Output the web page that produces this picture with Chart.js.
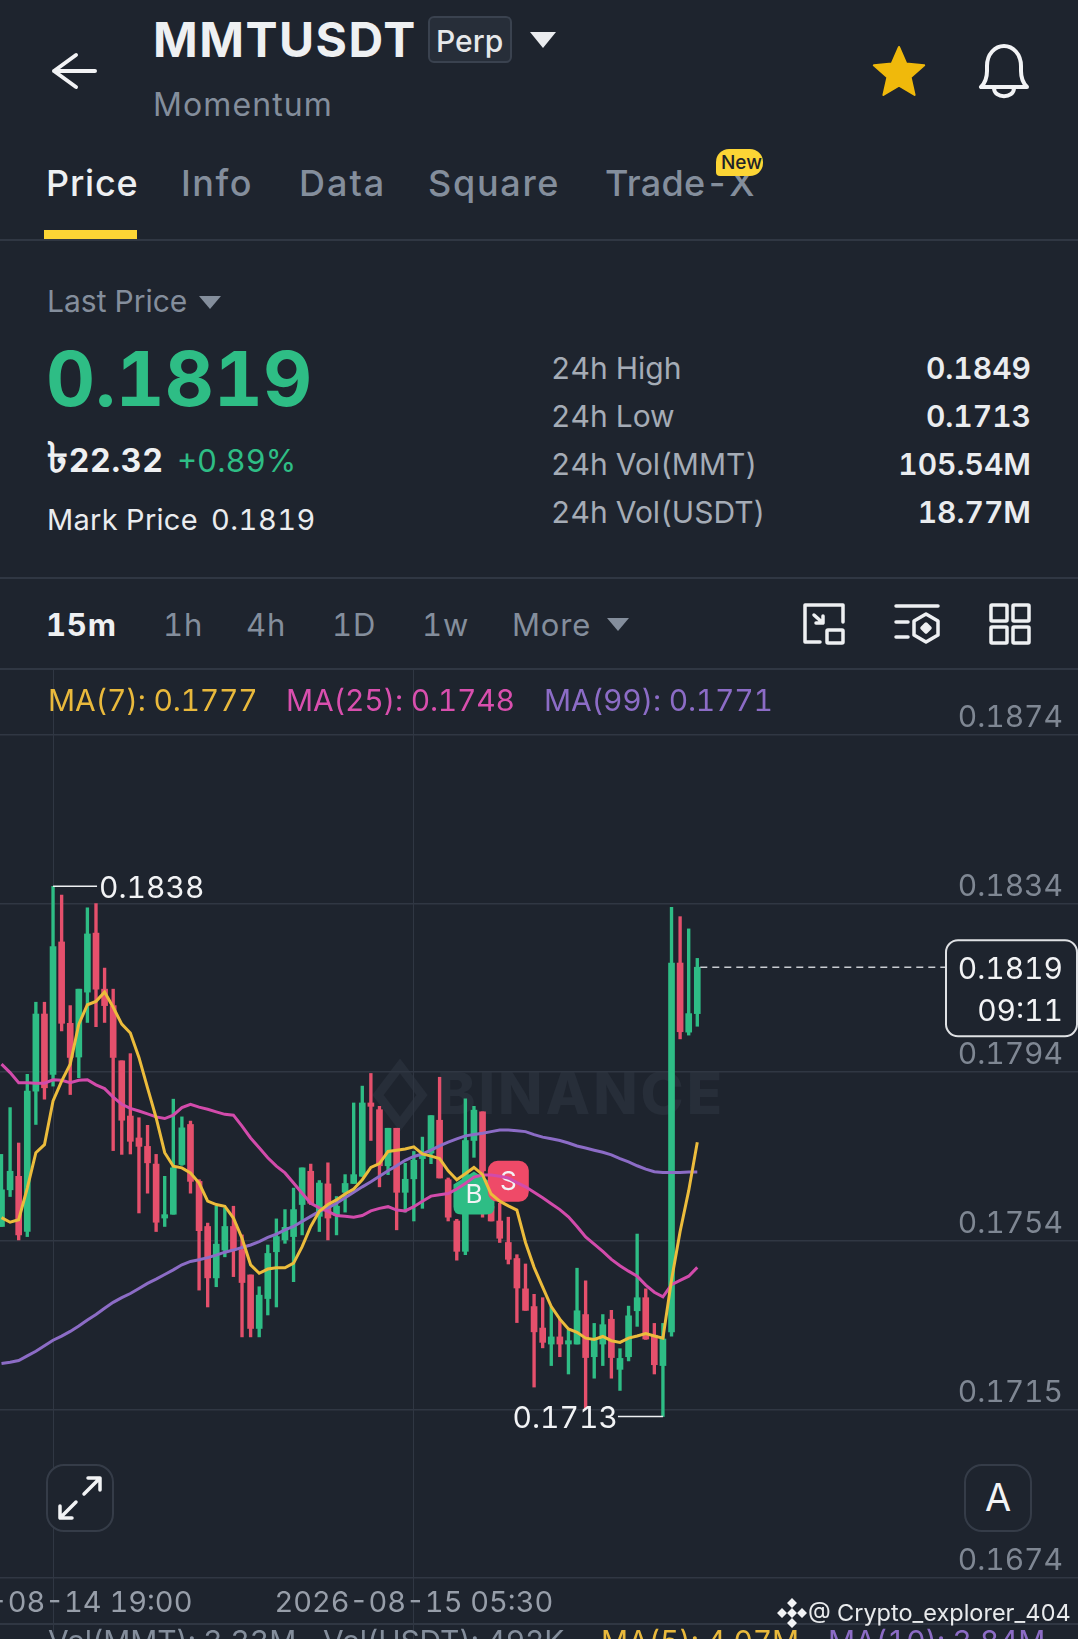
<!DOCTYPE html>
<html><head><meta charset="utf-8">
<script src="https://cdn.jsdelivr.net/npm/chart.js@4"></script>
<style>
html,body{margin:0;padding:0;background:#1e242e;width:1078px;height:1639px;overflow:hidden;font-family:Inter,"Noto Sans",sans-serif;font-variant-numeric:tabular-nums;}
.t{position:absolute;white-space:nowrap;transform:translateY(-50%);line-height:1.2;}
.r{transform:translate(-100%,-50%);}
.g{color:#848e9c;}
.hl{position:absolute;left:0;width:1078px;height:2px;background:#303743;}
#wrap{position:absolute;left:0;top:670px;width:1078px;height:969px;}
svg{position:absolute;overflow:visible;}
.tri{position:absolute;width:0;height:0;border-style:solid;border-color:transparent;border-bottom-width:0;}
.btn{position:absolute;border:2px solid #353c48;border-radius:18px;box-sizing:border-box;background:#1e242e;}
.tab{font-size:36px;font-weight:500;letter-spacing:1.5px;top:184px;}
.stat{font-size:30px;color:#a5acb6;left:551px;}
.val{font-size:30px;font-weight:600;color:#eaecef;left:1031px;}
.iv{font-size:31px;top:625px;letter-spacing:.8px;}
.leg{font-size:30px;top:700px;letter-spacing:-.2px;}
.foot{font-size:30px;top:1641px;letter-spacing:-.2px;}
</style></head><body>

<!-- header -->
<svg style="left:0;top:0" width="1078" height="120" fill="none">
  <path d="M54 71H95M76 55L54 71L76 87" stroke="#f2f3f5" stroke-width="4" stroke-linecap="round" stroke-linejoin="round"/>
  <path d="M899 47l7.2 16.5 18 1.8-13.6 12 4 17.7-15.6-9.3-15.6 9.3 4-17.7-13.6-12 18-1.8z" fill="#f0b90b" stroke="#f0b90b" stroke-width="2" stroke-linejoin="round"/>
  <path d="M981 87h46c-4-4-6-8-6-16V66c0-12-8-20-17-20s-17 8-17 20v5c0 8-2 12-6 16z" stroke="#f2f3f5" stroke-width="4" stroke-linejoin="round"/>
  <path d="M994 88c0 11 20 11 20 0" stroke="#f2f3f5" stroke-width="4"/>
</svg>
<div class="t" style="left:153px;top:40px;font-size:48px;font-weight:700;letter-spacing:1.5px;color:#eef0f2;">MMTUSDT</div>
<div style="position:absolute;left:428px;top:16px;width:84px;height:47px;box-sizing:border-box;background:#272e39;border:2px solid #3a424f;border-radius:6px;"></div>
<div class="t" style="left:436px;top:41px;font-size:30px;font-weight:500;color:#e6e8ea;">Perp</div>
<div class="tri" style="left:530px;top:32px;border-width:16px 13px 0;border-top-color:#eaecef;"></div>
<div class="t g" style="left:153px;top:105px;font-size:32px;letter-spacing:1.1px;">Momentum</div>

<!-- tabs -->
<div class="t tab" style="left:46px;letter-spacing:.8px;color:#eef0f2;">Price</div>
<div class="t g tab" style="left:181px;">Info</div>
<div class="t g tab" style="left:299px;letter-spacing:2px;">Data</div>
<div class="t g tab" style="left:428px;letter-spacing:1.7px;">Square</div>
<div class="t g tab" style="left:605px;letter-spacing:.3px;">Trade-X</div>
<div style="position:absolute;left:716px;top:149px;width:47px;height:27px;background:#fcd535;border-radius:13px 13px 13px 4px;"></div>
<div class="t" style="left:721px;top:163px;font-size:19px;font-weight:500;color:#1e2329;">New</div>
<div style="position:absolute;left:44px;top:230px;width:93px;height:9px;background:#fcd535;"></div>
<div class="hl" style="top:239px;"></div>

<!-- price block -->
<div class="t g" style="left:47px;top:301px;font-size:30px;">Last Price</div>
<div class="tri" style="left:199px;top:296px;border-width:13px 11px 0;border-top-color:#848e9c;"></div>
<div class="t" style="left:46px;top:379px;font-size:76px;font-weight:700;color:#2ebd85;">0.1819</div>
<div class="t" style="left:47px;top:461px;font-size:32px;font-weight:700;letter-spacing:.7px;color:#eef0f2;"><span style="font-size:42px;line-height:32px;">৳</span>22.32</div>
<div class="t" style="left:177px;top:461px;font-size:31px;color:#2ebd85;">+0.89%</div>
<div class="t" style="left:47px;top:520px;font-size:29px;letter-spacing:.3px;color:#eaecef;">Mark Price</div>
<div class="t" style="left:211px;top:520px;font-size:29px;letter-spacing:.5px;color:#eaecef;">0.1819</div>

<div class="t stat" style="top:368px;">24h High</div>
<div class="t stat" style="top:416px;">24h Low</div>
<div class="t stat" style="top:464px;">24h Vol(MMT)</div>
<div class="t stat" style="top:512px;">24h Vol(USDT)</div>
<div class="t r val" style="top:368px;">0.1849</div>
<div class="t r val" style="top:416px;">0.1713</div>
<div class="t r val" style="top:464px;">105.54M</div>
<div class="t r val" style="top:512px;">18.77M</div>
<div class="hl" style="top:577px;"></div>

<!-- interval row -->
<div class="t iv" style="left:46px;font-weight:700;color:#eef0f2;">15m</div>
<div class="t g iv" style="left:163px;">1h</div>
<div class="t g iv" style="left:246px;">4h</div>
<div class="t g iv" style="left:332px;">1D</div>
<div class="t g iv" style="left:422px;">1w</div>
<div class="t g iv" style="left:512px;">More</div>
<div class="tri" style="left:607px;top:618px;border-width:13px 11px 0;border-top-color:#848e9c;"></div>
<svg style="left:0;top:590px" width="1078" height="70" fill="none" stroke="#eef0f2" stroke-width="3.5" stroke-linejoin="round" stroke-linecap="round">
  <path d="M843 32V15H805V52H820"/><rect x="827" y="40" width="16" height="13" rx="1"/><path d="M814 25L823 33M823 26V33H816"/>
  <path d="M896 16H938M896 32H908M896 47H908"/><path d="M926 24L938 31V45L926 52L914 45V31Z"/><path d="M926 34l4 4-4 4-4-4z" fill="#eef0f2"/>
  <rect x="991" y="15" width="16" height="16" rx="1"/><rect x="1013" y="15" width="16" height="16" rx="1"/><rect x="991" y="37" width="16" height="16" rx="1"/><rect x="1013" y="37" width="16" height="16" rx="1"/>
</svg>
<div class="hl" style="top:668px;"></div>

<!-- watermark under the canvas -->
<svg style="left:375px;top:1060px" width="50" height="70" fill="none" stroke="#272e39" stroke-width="9"><path d="M3 35L25 6L47 35L25 64Z"/></svg>
<div class="t" style="left:437px;top:1094px;font-size:58px;font-weight:800;letter-spacing:3px;color:#272e39;">BINANCE</div>

<div id="wrap"><canvas id="c" width="1078" height="969"></canvas></div>

<!-- legend over the chart -->
<div class="t leg" style="left:48px;color:#e9b93c;">MA(7): 0.1777</div>
<div class="t leg" style="left:286px;color:#d94fae;">MA(25): 0.1748</div>
<div class="t leg" style="left:544px;color:#8c6cc6;">MA(99): 0.1771</div>

<!-- chart buttons -->
<div class="btn" style="left:46px;top:1464px;width:68px;height:68px;"></div>
<svg style="left:46px;top:1464px" width="68" height="68" fill="none" stroke="#f2f3f5" stroke-width="3.5" stroke-linecap="round" stroke-linejoin="round">
  <path d="M38 30L54 14M42 14H54V26M30 38L14 54M14 42V54H26"/>
</svg>
<div class="btn" style="left:964px;top:1464px;width:68px;height:68px;"></div>
<div class="t" style="left:985px;top:1498px;font-size:38px;color:#f2f3f5;">A</div>

<!-- footer -->
<div class="hl" style="top:1623px;"></div>
<svg style="left:777px;top:1596px" width="30" height="34" fill="#f2f3f5"><path d="M15 2l5 5-5 5-5-5zM5 12l5 5-5 5-5-5zM25 12l5 5-5 5-5-5zM15 12l5 5-5 5-5-5zM15 22l5 5-5 5-5-5z"/></svg>
<div class="t" style="left:808px;top:1613px;font-size:23.5px;color:#e8eaec;">@ Crypto_explorer_404</div>
<div class="t g foot" style="left:48px;">Vol(MMT): 3.33M</div>
<div class="t g foot" style="left:323px;">Vol(USDT): 492K</div>
<div class="t foot" style="left:601px;color:#e9b93c;">MA(5): 4.07M</div>
<div class="t foot" style="left:828px;color:#8c6cc6;">MA(10): 3.84M</div>

<script>
// candle values, oldest first
const opens = [.17574,.17661,.17693,.17562,.17895,.18078,.17935,.18249,.18056,.17976,.18130,.18270,.18137,.18098,.17967,.17836,.17784,.17764,.17722,.17594,.17603,.17721,.17816,.17681,.17574,.17452,.17518,.17574,.17518,.17459,.17332,.17403,.17514,.17542,.17550,.17626,.17705,.17598,.17675,.17600,
.17655,.17676,.17693,.17867,.17851,.17718,.17807,.17655,.17687,.17735,.17748,.17826,.17685,.17587,.17515,.17778,.17846,.17621,.17587,.17536,.17498,.17426,.17384,.17333,.17295,.17312,.17295,.17295,.17365,.17265,.17295,.17354,.17235,.17265,.17374,.17405,.17316,.17244,.17324,.18199,.18035,.18079];
const highs = [.17745,.17856,.17772,.17935,.18106,.18106,.18381,.18360,.18098,.18137,.18330,.18340,.18187,.18137,.17967,.17984,.17832,.17814,.17745,.17693,.17876,.17834,.17824,.17685,.17582,.17622,.17618,.17622,.17554,.17459,.17431,.17530,.17592,.17614,.17665,.17713,.17722,.17683,.17725,.17645,
.17697,.17867,.17907,.17937,.17859,.17807,.17807,.17724,.17752,.17786,.17837,.17928,.17689,.17591,.17877,.17859,.17846,.17680,.17629,.17596,.17507,.17485,.17413,.17405,.17384,.17354,.17329,.17475,.17445,.17344,.17365,.17375,.17284,.17385,.17556,.17426,.17344,.17344,.18331,.18309,.18280,.18210];
const lows = [.17574,.17645,.17542,.17550,.17816,.17876,.17907,.18038,.17887,.17927,.18058,.18048,.18058,.17754,.17745,.17746,.17606,.17653,.17562,.17574,.17603,.17719,.17653,.17423,.17383,.17431,.17502,.17455,.17312,.17312,.17312,.17364,.17383,.17534,.17443,.17554,.17626,.17562,.17542,.17554,
.17608,.17676,.17693,.17778,.17668,.17697,.17566,.17608,.17587,.17617,.17723,.17689,.17587,.17494,.17507,.17738,.17596,.17587,.17536,.17485,.17346,.17375,.17193,.17286,.17244,.17265,.17224,.17295,.17142,.17214,.17244,.17214,.17185,.17255,.17337,.17306,.17224,.17123,.17314,.18019,.18028,.18049];
const closes = [.17661,.17705,.17554,.17895,.18078,.17903,.18238,.18056,.17975,.18137,.18268,.18137,.18098,.17975,.17826,.17776,.17764,.17725,.17584,.17602,.17713,.17808,.17681,.17564,.17452,.17532,.17574,.17518,.17441,.17332,.17411,.17510,.17550,.17572,.17614,.17713,.17629,.17677,.17594,.17622,
.17676,.17697,.17867,.17859,.17718,.17807,.17655,.17686,.17731,.17748,.17837,.17689,.17596,.17515,.17778,.17850,.17706,.17587,.17546,.17496,.17428,.17375,.17324,.17299,.17312,.17295,.17303,.17374,.17263,.17307,.17341,.17263,.17261,.17362,.17405,.17307,.17246,.17307,.18199,.18036,.18079,.18189];
// moving averages
const ma7 = [.17595,.17584,.17590,.17665,.17749,.17768,.17872,.17919,.17959,.18054,.18100,.18108,.18130,.18094,.18054,.18033,.17975,.17903,.17832,.17749,.17717,.17713,.17701,.17677,.17634,.17626,.17622,.17594,.17546,.17483,.17463,.17473,.17476,.17476,.17487,.17526,.17574,.17610,.17626,.17637,
.17651,.17663,.17685,.17714,.17723,.17752,.17755,.17758,.17763,.17746,.17741,.17735,.17706,.17685,.17699,.17714,.17697,.17651,.17634,.17623,.17613,.17536,.17477,.17430,.17384,.17354,.17331,.17323,.17309,.17306,.17313,.17303,.17299,.17309,.17314,.17320,.17314,.17309,.17447,.17562,.17659,.17774];
const ma25 = [.17959,.17939,.17915,.17915,.17914,.17914,.17922,.17921,.17915,.17921,.17922,.17910,.17901,.17881,.17864,.17854,.17848,.17841,.17834,.17830,.17838,.17856,.17864,.17857,.17852,.17846,.17840,.17838,.17812,.17784,.17761,.17737,.17717,.17701,.17677,.17653,.17629,.17618,.17610,.17600,
.17598,.17596,.17600,.17611,.17617,.17621,.17613,.17611,.17621,.17634,.17646,.17649,.17652,.17663,.17676,.17691,.17696,.17696,.17693,.17689,.17678,.17668,.17655,.17642,.17628,.17614,.17597,.17574,.17549,.17532,.17515,.17496,.17481,.17468,.17456,.17435,.17418,.17407,.17436,.17446,.17456,.17477];
const ma99 = [.17249,.17252,.17256,.17267,.17278,.17291,.17304,.17314,.17325,.17338,.17352,.17365,.17380,.17394,.17405,.17415,.17427,.17439,.17449,.17460,.17471,.17483,.17491,.17495,.17500,.17506,.17513,.17518,.17524,.17530,.17538,.17548,.17556,.17566,.17574,.17586,.17598,.17610,.17618,.17629,
.17642,.17655,.17668,.17680,.17693,.17706,.17718,.17731,.17740,.17746,.17755,.17765,.17774,.17782,.17789,.17792,.17795,.17799,.17803,.17803,.17801,.17799,.17792,.17786,.17782,.17778,.17772,.17765,.17760,.17755,.17750,.17744,.17735,.17727,.17718,.17710,.17704,.17702,.17702,.17702,.17703,.17703];
// axes
const yTickValues = [.1874,.1834,.1794,.1754,.1714,.1674];
const yTickLabels = ["0.1874","0.1834","0.1794","0.1754","0.1715","0.1674"];
const xTickIndex = [6,48];
const xTickLabels = ["2026-08-14 19:00","2026-08-15 05:30"];
// text on the chart
const highLabel = "0.1838", lowLabel = "0.1713", lastLabel = "0.1819", countdown = "09:11";
const tradeMarks = [{label:"B",index:55,price:.17650,color:"#2ebd85"},{label:"S",index:59,price:.17681,color:"#ef4a68"}];

const GREEN="#2ebd85", RED="#e5506c", FONT="Inter, sans-serif";
const idx = opens.map((_,i)=>i);
const candleColor = c => { const i=c.dataIndex; return closes[i]>=opens[i]?GREEN:RED; };
const zero = s => { s.paddingLeft=0;s.paddingRight=0;s.paddingTop=0;s.paddingBottom=0; };

const overlay = {
  id:"overlay",
  afterDatasetDraw(chart,args){
    if(args.index!==1) return;                 // right after the candle bodies
    const {x,y}=chart.scales, ctx=chart.ctx;
    tradeMarks.forEach(m=>{
      const cx=x.getPixelForValue(m.index), cy=y.getPixelForValue(m.price), w=41, h=m.label==="B"?40:41;
      ctx.save(); ctx.fillStyle=m.color; ctx.beginPath();
      if(m.label==="B"){
        ctx.moveTo(cx,cy-h/2-3); ctx.lineTo(cx+w/2,cy-h/2+10);
        ctx.lineTo(cx+w/2,cy+h/2-8); ctx.quadraticCurveTo(cx+w/2,cy+h/2,cx+w/2-8,cy+h/2);
        ctx.lineTo(cx-w/2+8,cy+h/2); ctx.quadraticCurveTo(cx-w/2,cy+h/2,cx-w/2,cy+h/2-8);
        ctx.lineTo(cx-w/2,cy-h/2+10); ctx.closePath();
      } else ctx.roundRect(cx-w/2,cy-h/2,w,h,10);
      ctx.fill();
      ctx.fillStyle="#f2f3f5"; ctx.font="26px "+FONT; ctx.textAlign="center"; ctx.textBaseline="middle";
      ctx.fillText(m.label,cx,cy+1);
      ctx.restore();
    });
  },
  afterDatasetsDraw(chart){
    const {x,y}=chart.scales, ctx=chart.ctx;
    ctx.save();
    ctx.font="30px "+FONT; ctx.textBaseline="middle";
    // highest / lowest
    const hi=highs.indexOf(Math.max(...highs)), lo=lows.indexOf(Math.min(...lows));
    const hx=x.getPixelForValue(hi), hy=y.getPixelForValue(highs[hi]);
    const lx=x.getPixelForValue(lo), ly=y.getPixelForValue(lows[lo]);
    ctx.strokeStyle="#eef0f2"; ctx.lineWidth=1.5; ctx.fillStyle="#f2f3f5";
    ctx.beginPath(); ctx.moveTo(hx,hy); ctx.lineTo(hx+44,hy); ctx.stroke();
    ctx.textAlign="left"; ctx.fillText(highLabel,hx+46,hy+3);
    ctx.beginPath(); ctx.moveTo(lx,ly); ctx.lineTo(lx-45,ly); ctx.stroke();
    ctx.textAlign="right"; ctx.fillText(lowLabel,lx-45,ly+2);
    // last price
    const n=closes.length-1, px=x.getPixelForValue(n)+3, py=y.getPixelForValue(closes[n]);
    ctx.setLineDash([7,5]); ctx.strokeStyle="#c9ccd1"; ctx.lineWidth=1.5;
    ctx.beginPath(); ctx.moveTo(px,py); ctx.lineTo(946,py); ctx.stroke(); ctx.setLineDash([]);
    ctx.fillStyle="#1e242e"; ctx.strokeStyle="#dfe1e4"; ctx.lineWidth=2;
    ctx.beginPath(); ctx.roundRect(946,py-27,131,96,12); ctx.fill(); ctx.stroke();
    ctx.fillStyle="#f2f3f5"; ctx.textAlign="right";
    ctx.fillText(lastLabel,1063,py+3); ctx.fillText(countdown,1063,py+45);
    ctx.restore();
  }
};

new Chart(document.getElementById("c"),{
  type:"bar",
  data:{datasets:[
    {type:"bar",order:6,grouped:false,barThickness:2.7,borderWidth:0,backgroundColor:candleColor,hoverBackgroundColor:candleColor,
     data:idx.map(i=>({x:i,y:[lows[i],highs[i]]}))},
    {type:"bar",order:5,grouped:false,barThickness:6,borderWidth:0,backgroundColor:candleColor,hoverBackgroundColor:candleColor,
     data:idx.map(i=>({x:i,y:[opens[i],closes[i]]}))},
    {type:"line",order:3,data:idx.map(i=>({x:i,y:ma99[i]})),borderColor:"#8c6cc6",borderWidth:3,pointRadius:0,tension:0},
    {type:"line",order:2,data:idx.map(i=>({x:i,y:ma25[i]})),borderColor:"#d24bab",borderWidth:3,pointRadius:0,tension:0},
    {type:"line",order:1,data:idx.map(i=>({x:i,y:ma7[i]})),borderColor:"#ecbc3c",borderWidth:3,pointRadius:0,tension:0}
  ]},
  options:{
    responsive:false,animation:false,devicePixelRatio:1,
    layout:{padding:0},
    events:[],
    plugins:{legend:{display:false},tooltip:{enabled:false}},
    scales:{
      x:{type:"linear",position:"bottom",min:-0.175,max:125.32,offset:false,
        grid:{offset:false,color:"#303743",lineWidth:1,drawTicks:true,tickLength:61,tickColor:"#303743"},
        border:{display:false},
        afterBuildTicks:s=>{s.ticks=xTickIndex.map(v=>({value:v}));},
        afterFit:s=>{s.height=61;zero(s);},
        ticks:{autoSkip:false,maxRotation:0,minRotation:0,padding:-53,color:"#979ea9",font:{family:FONT,size:29},
          callback:(v,i)=>xTickLabels[i]}
      },
      y:{type:"linear",position:"right",min:.1674,max:.188942,
        grid:{color:"#303743",lineWidth:1.5,drawTicks:false},
        border:{display:false},
        afterBuildTicks:s=>{s.ticks=yTickValues.map(v=>({value:v}));},
        afterFit:s=>{s.width=0;zero(s);},
        ticks:{mirror:true,padding:-15,color:"#7f8793",font:{family:FONT,size:30,lineHeight:1.12},
          callback:(v,i)=>[yTickLabels[i],""]}
      }
    }
  },
  plugins:[overlay]
});
</script>
</body></html>
